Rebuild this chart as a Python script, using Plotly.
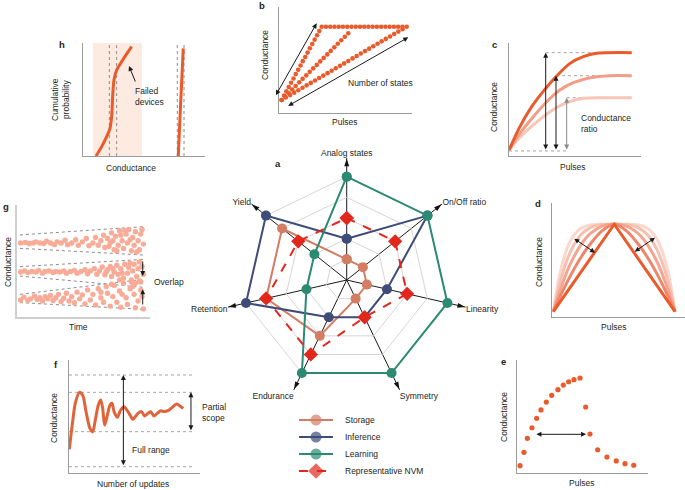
import plotly.graph_objects as go

W, H = 685, 490
FONT = "Liberation Sans, Arial, Helvetica, sans-serif"
TXT = '#231f20'
ORANGE = '#eb5a2b'

# ---------------- data ----------------
# a: radar chart
radar_axes = ['Analog states', 'On/Off ratio', 'Linearity', 'Symmetry',
              'Endurance', 'Retention', 'Yield']
storage = [0.2, 0.2, 0.2, 0.2, 0.6, 0.8, 0.8]
inference = [0.4, 1.0, 0.4, 0.4, 0.4, 1.0, 1.0]
learning = [1.0, 1.0, 1.0, 1.0, 1.0, 0.4, 0.4]
nvm = [0.6, 0.6, 0.6, 0.4, 0.8, 0.8, 0.6]
radar_rings = [0.2, 0.4, 0.6, 0.8, 1.0]
radar_arrow_r = [1.175, 1.175, 1.175, 1.175, 1.175, 1.175, 1.175]
legend_names = ['Storage', 'Inference', 'Learning', 'Representative NVM']

# h: cumulative probability vs conductance
h_c1_x = [10.7, 15.3, 19.4, 22.1, 23.5, 24.3, 25.4, 27.6, 31.7, 35.8, 39.9]
h_c1_y = [0, 8.3, 17.1, 24.5, 34.8, 52.5, 67.3, 76.1, 83.5, 90.3, 96.7]
h_c2_x = [78.1, 80.1, 82.2]
h_c2_y = [0, 48.1, 95.3]
h_band = [8.2, 48.4]
h_guides = [21.6, 27.6, 77.3, 82.8]

# b: number of states
b_steep_x = [2.0, 3.8, 5.5, 7.3, 9.1, 10.9, 12.6, 14.4, 16.2, 17.9, 19.7, 21.5, 23.2, 25.0, 26.8, 28.6, 30.3, 32.1]
b_steep_y = [12.3, 16.4, 20.4, 24.5, 28.6, 32.6, 36.7, 40.8, 44.8, 48.9, 52.9, 57.0, 61.1, 65.1, 69.2, 73.3, 77.3, 81.4]
b_mid_x = [2.0, 4.6, 7.3, 9.9, 12.5, 15.2, 17.8, 20.5, 23.1, 25.7, 28.4, 31.0, 33.6, 36.3, 38.9, 41.6, 44.2, 46.8, 49.5, 52.1]
b_mid_y = [12.3, 15.6, 18.9, 22.2, 25.5, 28.9, 32.2, 35.5, 38.8, 42.1, 45.4, 48.7, 52.0, 55.3, 58.6, 62.0, 65.3, 68.6, 71.9, 75.2]
b_slow_x = [2.0, 5.1, 8.3, 11.4, 14.5, 17.7, 20.8, 23.9, 27.1, 30.2, 33.3, 36.5, 39.6, 42.7, 45.9, 49.0,
            52.1, 55.3, 58.4, 61.5, 64.7, 67.8, 70.9, 74.1, 77.2, 80.3, 83.5, 86.6, 89.7, 92.9, 96.0]
b_slow_y = [12.3, 14.6, 16.9, 19.2, 21.5, 23.8, 26.1, 28.4, 30.7, 33.0, 35.3, 37.6, 39.9, 42.2, 44.5, 46.8,
            49.1, 51.5, 53.8, 56.1, 58.4, 60.7, 63.0, 65.3, 67.6, 69.9, 72.2, 74.5, 76.8, 79.1, 81.4]
b_top_x = [35.3, 38.5, 41.7, 44.9, 48.1, 51.3, 54.5, 57.7, 60.9, 64.1, 67.2, 70.4, 73.6, 76.8, 80.0, 83.2, 86.4, 89.6, 92.8]
b_top_y = [81.4, 81.4, 81.4, 81.4, 81.4, 81.4, 81.4, 81.4, 81.4, 81.4, 81.4, 81.4, 81.4, 81.4, 81.4, 81.4, 81.4, 81.4, 81.4]

# c: conductance ratio
c_dark_x = [0, 8.3, 17.2, 27.8, 35.6, 46.2, 56.3, 66.4, 93.0]
c_dark_y = [5, 25.7, 43.4, 59.6, 69.9, 81.7, 87.6, 90.6, 91.2]
c_mid_x = [0, 8.3, 18.4, 28.6, 38.6, 48.7, 61.4, 76.5, 93.0]
c_mid_y = [5, 19.8, 34.5, 47.8, 58.1, 64.6, 69.0, 70.8, 70.8]
c_light_x = [0, 8.3, 18.4, 31.1, 43.7, 56.3, 71.4, 93.0]
c_light_y = [5, 16.3, 27.2, 38.9, 46.9, 50.8, 51.3, 51.3]
c_levels = [91.2, 70.8, 51.3]
c_base = 4.2
c_arrow_x = [27.8, 35.6, 43.7]

# d: linearity / symmetry
d_x = [0.75, 5.35, 9.94, 14.5, 21.4, 28.3, 37.5, 46.7, 55.9, 65.0, 71.9, 78.8, 83.3, 87.9, 92.5]
d_lin_x = [0.75, 46.7, 92.5]
d_lin_y = [4.4, 81.3, 4.4]
d_bow1 = [4.4, 16.3, 27.5, 37.9, 51.8, 63.5, 75.5, 81.3, 75.5, 63.5, 51.8, 37.9, 27.5, 16.3, 4.4]
d_bow2 = [4.4, 21.5, 36.3, 48.6, 63.0, 72.8, 79.7, 81.3, 79.7, 72.8, 63.0, 48.6, 36.3, 21.5, 4.4]
d_bow3 = [4.4, 28.1, 46.1, 59.2, 71.8, 78.2, 81.0, 81.3, 81.0, 78.2, 71.8, 59.2, 46.1, 28.1, 4.4]
d_bow4 = [4.4, 35.9, 56.1, 68.4, 77.5, 80.6, 81.3, 81.3, 81.3, 80.6, 77.5, 68.4, 56.1, 35.9, 4.4]

# e: asymmetric potentiation / depression
e_x = [2.1, 5.1, 7.7, 11.2, 14.8, 18.1, 22.2, 26.3, 31.1, 35.2, 39.3, 43.4, 48.0,
       52.3, 55.6, 61.5, 68.6, 75.7, 82.4, 89.1]
e_y = [6.7, 18.5, 30.9, 40.2, 48.5, 55.9, 62.9, 68.8, 73.8, 77.9, 80.8, 82.6, 84.1,
       58.5, 34.7, 20.8, 14.4, 10.9, 8.5, 7.1]

# f: conductance vs number of updates
f_x = [0.25, 2.3, 4.8, 7.9, 10.4, 13.0, 16.0, 18.1, 20.1, 22.4, 24.2, 25.7, 27.2, 29.3, 31.3, 32.8,
       34.4, 36.9, 39.4, 42.0, 44.5, 46.6, 48.6, 50.6, 52.7, 55.2, 57.8, 60.3, 62.3, 64.9, 67.4,
       70.0, 72.5, 75.6, 78.6, 82.2, 84.7, 87.3]
f_y = [20.7, 40.8, 61.6, 71.3, 68.9, 54.2, 39.4, 36.4, 46.8, 60.1, 64.5, 57.1, 42.3, 51.2, 60.1, 61.6,
       54.2, 49.1, 55.6, 58.6, 55.0, 51.2, 47.4, 49.7, 52.7, 54.2, 50.3, 52.7, 54.2, 50.3, 52.7,
       55.0, 54.2, 55.0, 57.7, 61.0, 59.2, 57.1]
f_levels = [86.7, 71.3, 36.4, 5.3]

# g: device-to-device variation over time
g1_x = [2.5, 6, 9, 12, 14, 17, 20, 22, 25, 28, 30, 33, 36, 38, 41, 44, 46, 49, 52, 54, 57, 59, 61, 63, 65, 66,
        68, 70, 71, 73, 74, 76, 77, 79, 80, 82, 83, 84, 86, 87, 88, 89, 91, 92, 93, 94, 95, 90, 85, 78, 72, 69, 81, 75]
g1_y = [66, 66.5, 65.5, 66, 67, 66, 65.5, 67.5, 66, 64.5, 67, 66, 68.5, 64.5, 66, 69, 64, 67, 70, 63.5, 66, 71,
        64, 68, 73, 62, 70, 66, 75, 60, 72, 64, 77, 68, 61, 74, 66, 78, 59, 71, 64, 76, 68, 60, 74, 78, 65, 58,
        69, 73, 68, 63, 77, 59]
g2_x = [2.5, 5.5, 8, 11, 14, 16, 19, 21, 24, 27, 29, 32, 35, 37, 40, 43, 45, 48, 51, 53, 55, 58, 60, 62, 64, 66,
        68, 70, 71, 73, 75, 76, 78, 80, 81, 83, 84, 86, 87, 88, 90, 91, 93, 94, 95, 89, 85, 79, 72, 67, 92, 77]
g2_y = [40, 41, 39.5, 40.5, 40, 41.5, 39, 40.5, 41, 39.5, 40.5, 40, 41, 39, 40.5, 41.5, 39, 40.5, 42, 38.5, 41,
        43, 38, 41, 44.5, 37.5, 42, 45, 36, 40, 46, 38, 43, 34.5, 47, 39, 44, 33, 41, 47, 36, 43, 31, 45, 38, 30,
        48, 39, 43, 40, 49, 33]
g3_x = [2.5, 5, 8, 10, 13, 15, 17, 19, 21, 23, 25, 27, 29, 31, 33, 35, 37, 39, 41, 43, 45, 47, 49, 51, 53, 55,
        57, 59, 61, 63, 65, 67, 68, 70, 72, 73, 75, 77, 78, 80, 82, 83, 85, 86, 88, 89, 91, 92, 93, 95, 94, 87,
        79, 71, 63]
g3_y = [15, 17.5, 14.5, 16, 18.5, 15.5, 17, 14, 18, 16, 19, 14.5, 17, 20, 13.5, 16.5, 21, 14, 18, 12.5, 22, 16,
        19.5, 11.5, 24, 15, 20, 10.5, 25, 17, 13, 27, 21, 9.5, 18, 28, 13, 23, 8.5, 30, 17, 11, 25, 31, 20, 8,
        14, 32, 24, 7, 18, 27, 20, 29, 22]
g_bounds = [  # (left y, right y) of the dotted envelopes
    (73.2, 80.6), (61.2, 55.2), (44.8, 51.3), (36.4, 26.3), (20.0, 33.5), (12.6, 6.6)]
g_env_x = [2.0, 95.0]

# ---------------- figure ----------------
fig = go.Figure()

frames = {  # panel: (axis no., left px, right px, bottom px, top px, line colour, line width)
    'h': (1, 83, 205, 156, 43, '#9b9b9b', 1),
    'b': (2, 279, 412, 113, 7, '#9b9b9b', 1),
    'c': (3, 509, 641, 155.7, 42.7, '#9b9b9b', 1),
    'g': (4, 17.3, 150, 316.7, 205, '#cfcfcf', 2),
    'd': (5, 552.3, 685, 316.7, 203, '#9b9b9b', 1),
    'f': (6, 69, 200, 472.7, 360, '#9b9b9b', 1),
    'e': (7, 517.3, 648, 473.3, 360, '#9b9b9b', 1),
}
REF = {}
layout_axes = {}
for key, (n, l, r, b, t, lc, lw) in frames.items():
    s = '' if n == 1 else str(n)
    REF[key] = ('x' + s, 'y' + s)
    common = dict(range=[0, 100], showgrid=False, zeroline=False, showticklabels=False,
                  ticks='', showline=True, linecolor=lc, linewidth=lw, fixedrange=True)
    layout_axes['xaxis' + s] = dict(domain=[l / W, r / W], anchor='y' + s, **common)
    layout_axes['yaxis' + s] = dict(domain=[1 - b / H, 1 - t / H], anchor='x' + s, **common)

# legend panel (custom, for exact row spacing): 1 x-unit = 34 px
layout_axes['xaxis8'] = dict(domain=[299 / W, 435 / W], range=[0, 4], anchor='y8', visible=False, fixedrange=True)
layout_axes['yaxis8'] = dict(domain=[1 - 479.5 / H, 1 - 411.5 / H], range=[3.5, -0.5], anchor='x8',
                             visible=False, fixedrange=True)

shapes = []
annotations = []


def line(key, x, y, color, width=3, dash='solid', shape='spline'):
    xr, yr = REF[key]
    fig.add_trace(go.Scatter(x=x, y=y, xaxis=xr, yaxis=yr, mode='lines',
                             line=dict(color=color, width=width, dash=dash, shape=shape, smoothing=0.8),
                             showlegend=False, hoverinfo='skip', cliponaxis=False))


def dots(key, x, y, color, size):
    xr, yr = REF[key]
    fig.add_trace(go.Scatter(x=x, y=y, xaxis=xr, yaxis=yr, mode='markers',
                             marker=dict(color=color, size=size, line=dict(width=0)),
                             showlegend=False, hoverinfo='skip', cliponaxis=False))


def seg(key, x0, y0, x1, y1, color='#a5a5a5', dash='dot', width=1):
    xr, yr = REF[key]
    shapes.append(dict(type='line', xref=xr, yref=yr, x0=x0, y0=y0, x1=x1, y1=y1,
                       line=dict(color=color, width=width, dash=dash), layer='below'))


def arrow(key, x0, y0, x1, y1, both=True, color='#1a1a1a'):
    xr, yr = REF[key]
    annotations.append(dict(x=x1, y=y1, ax=x0, ay=y0, xref=xr, yref=yr, axref=xr, ayref=yr,
                            text='', showarrow=True, arrowhead=2, arrowsize=1, arrowwidth=1,
                            arrowcolor=color, arrowside='end+start' if both else 'end',
                            startarrowhead=2, startarrowsize=1, standoff=0, startstandoff=0))


def label(px, py, text, size=8.5, angle=0, xanchor='center', align='center'):
    annotations.append(dict(x=px / W, y=1 - py / H, xref='paper', yref='paper', text=text,
                            showarrow=False, textangle=angle, xanchor=xanchor, yanchor='middle',
                            align=align, font=dict(size=size, color=TXT, family=FONT)))


# ---- h ----
shapes.append(dict(type='rect', xref='x', yref='y', x0=h_band[0], x1=h_band[1], y0=0, y1=100,
                   fillcolor='rgba(250,190,160,0.30)', line=dict(width=0), layer='below'))
for gx in h_guides:
    seg('h', gx, 0, gx, 100, color='#8c8c8c')
line('h', h_c1_x, h_c1_y, ORANGE)
line('h', h_c2_x, h_c2_y, ORANGE)
arrow('h', 43.4, 64.6, 37.7, 79.6, both=False)
label(62, 45, '<b>h</b>', size=9.5)
label(60, 100, 'Cumulative<br>probability', angle=-90)
label(131, 168, 'Conductance')
label(133, 97, 'Failed<br>devices', xanchor='left', align='left')

# ---- b ----
dots('b', b_slow_x, b_slow_y, ORANGE, 4.6)
dots('b', b_mid_x, b_mid_y, ORANGE, 4.6)
dots('b', b_steep_x, b_steep_y, ORANGE, 4.6)
dots('b', b_top_x, b_top_y, ORANGE, 4.6)
arrow('b', -3.0, 15.4, 28.3, 84.6)
arrow('b', 5.8, 5.9, 97.2, 71.4)
label(262, 5, '<b>b</b>', size=9.5)
label(265, 55, 'Conductance', angle=-90)
label(345, 122, 'Pulses')
label(380, 83, 'Number of states')

# ---- c ----
seg('c', 0, c_base, c_arrow_x[2], c_base)
seg('c', c_arrow_x[0], c_levels[0], 66, c_levels[0])
seg('c', c_arrow_x[1], c_levels[1], 93, c_levels[1])
seg('c', c_arrow_x[2], c_levels[2], 93, c_levels[2])
line('c', c_light_x, c_light_y, '#f8c6b8')
line('c', c_mid_x, c_mid_y, '#f39c86')
line('c', c_dark_x, c_dark_y, ORANGE)
arrow('c', c_arrow_x[0], c_base, c_arrow_x[0], c_levels[0])
arrow('c', c_arrow_x[1], c_base, c_arrow_x[1], c_levels[1])
arrow('c', c_arrow_x[2], c_base, c_arrow_x[2], c_levels[2], color='#8a8a8a')
label(494, 45, '<b>c</b>', size=9.5)
label(494, 107, 'Conductance', angle=-90)
label(573, 167, 'Pulses')
label(579, 124, 'Conductance<br>ratio', xanchor='left', align='left')

# ---- g ----
for (yl, yr_) in g_bounds:
    seg('g', g_env_x[0], yl, g_env_x[1], yr_, color='#8c8c8c')
dots('g', g1_x, g1_y, '#f8ab96', 5.4)
dots('g', g2_x, g2_y, '#f8ab96', 5.4)
dots('g', g3_x, g3_y, '#f8ab96', 5.4)
arrow('g', 94.5, 50.8, 94.5, 36.4, both=False)
arrow('g', 94.5, 9.6, 94.5, 24.5, both=False)
label(6, 207, '<b>g</b>', size=9.5)
label(8, 262, 'Conductance', angle=-90)
label(78, 327, 'Time')
label(152, 282, 'Overlap', xanchor='left')

# ---- d ----
line('d', d_x, d_bow4, '#fbd7cc')
line('d', d_x, d_bow3, '#f8c0b0')
line('d', d_x, d_bow2, '#f5a48e')
line('d', d_x, d_bow1, '#f0856a')
line('d', d_lin_x, d_lin_y, ORANGE, shape='linear')
arrow('d', 15.4, 69.5, 32.2, 56.3)
arrow('d', 61.0, 56.3, 77.4, 69.5)
label(538, 203, '<b>d</b>', size=9.5)
label(539, 262, 'Conductance', angle=-90)
label(614, 327, 'Pulses')

# ---- f ----
for lv in f_levels:
    seg('f', 0, lv, 94.7, lv)
line('f', f_x, f_y, '#e0643a', width=3)
arrow('f', 41.5, f_levels[3], 41.5, f_levels[0])
arrow('f', 93.1, f_levels[2], 93.1, f_levels[1])
label(56, 364, '<b>f</b>', size=9.5)
label(54, 418, 'Conductance', angle=-90)
label(133, 484, 'Number of updates')
label(130, 450, 'Full range', xanchor='left')
label(200, 412, 'Partial<br>scope', xanchor='left', align='left')

# ---- e ----
dots('e', e_x, e_y, ORANGE, 5.2)
arrow('e', 13.5, 34.4, 52.6, 34.4)
label(504, 361, '<b>e</b>', size=9.5)
label(504, 417, 'Conductance', angle=-90)
label(582, 483, 'Pulses')

# ---- a: radar ----
theta_closed = radar_axes + radar_axes[:1]
series = [(legend_names[0], storage, '#d27d64', 'circle', 'solid', 10),
          (legend_names[1], inference, '#3f4c78', 'circle', 'solid', 10),
          (legend_names[2], learning, '#2b8a71', 'circle', 'solid', 10),
          (legend_names[3], nvm, '#e2271d', 'diamond', 'dash', 11)]
fig.add_trace(go.Scatterpolar(r=radar_arrow_r, theta=radar_axes, mode='markers',
                              marker=dict(symbol='arrow', size=8, color='#111111',
                                          angle=[i * 360 / len(radar_axes) for i in range(len(radar_axes))]),
                              showlegend=False, hoverinfo='skip'))
for i, (name, vals, col, sym, dash, size) in enumerate(series):
    fig.add_trace(go.Scatterpolar(r=vals + vals[:1], theta=theta_closed, mode='lines+markers', name=name,
                                  line=dict(color=col, width=2, dash=dash),
                                  marker=dict(color=col, size=size, symbol=sym, line=dict(width=0)),
                                  showlegend=False, hoverinfo='skip'))
    # legend entry
    fig.add_trace(go.Scatter(x=[0, 0.5, 1], y=[i, i, i], xaxis='x8', yaxis='y8', mode='lines+markers',
                             line=dict(color=col, width=2, dash='dash' if dash == 'dash' else 'solid'),
                             marker=dict(color=col, size=[0, size + 1, 0], symbol=sym, line=dict(width=0)),
                             showlegend=False, hoverinfo='skip', cliponaxis=False))
    annotations.append(dict(x=1.29, y=i, xref='x8', yref='y8', text=name, showarrow=False,
                            xanchor='left', yanchor='middle', font=dict(size=8.5, color=TXT, family=FONT)))
label(278, 163, '<b>a</b>', size=9.5)

fig.update_layout(
    width=W, height=H, margin=dict(l=0, r=0, t=0, b=0),
    paper_bgcolor='white', plot_bgcolor='rgba(0,0,0,0)', showlegend=False,
    font=dict(family=FONT, size=8.5, color=TXT),
    shapes=shapes, annotations=annotations,
    polar=dict(
        domain=dict(x=[0.3282, 0.6841], y=[0.1798, 0.6773]),
        gridshape='linear', bgcolor='rgba(0,0,0,0)',
        radialaxis=dict(range=[0, 1.18], tickvals=radar_rings, showticklabels=False, ticks='',
                        showline=False, gridcolor='#d6d6d6', gridwidth=1),
        angularaxis=dict(direction='clockwise', rotation=90, showline=False, gridcolor='#1a1a1a',
                         gridwidth=1, ticks='', tickfont=dict(size=8.5, color=TXT, family=FONT),
                         categoryorder='array', categoryarray=radar_axes)),
    **layout_axes)

fig.write_html('out.html', config={'displayModeBar': False},
               post_script="document.body.style.margin='0';document.body.style.overflow='hidden';")
